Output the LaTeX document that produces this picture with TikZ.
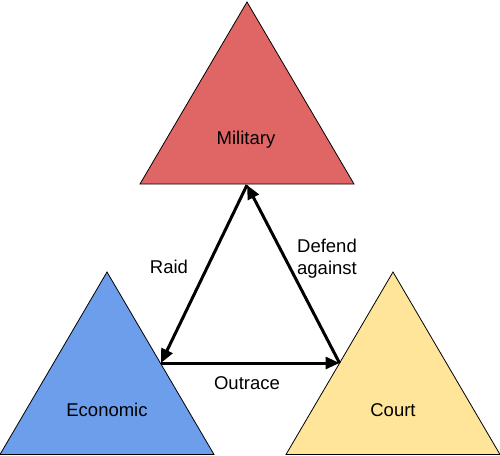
\documentclass[tikz,border=0pt]{standalone}
\usepackage{fontspec}
\setmainfont{Liberation Sans}
\usetikzlibrary{arrows.meta}
\definecolor{milred}{HTML}{E06666}
\definecolor{ecoblue}{HTML}{6D9EEB}
\definecolor{courtyel}{HTML}{FFE599}
\begin{document}
\begin{tikzpicture}[x=1pt,y=-1pt,
  tri/.style={draw=black,line width=0.8pt},
  lbl/.style={font=\fontsize{18.5}{22}\selectfont,inner sep=0pt,align=center},
  conn/.style={line width=3pt,-{Triangle[length=14pt,width=12pt]}}]
\useasboundingbox (0,0) rectangle (500,455);
% vertices
\coordinate (mA) at (247,2);
\coordinate (mL) at (140,184);
\coordinate (mR) at (354,184);
\coordinate (eA) at (107,272);
\coordinate (eL) at (0,454.5);
\coordinate (eR) at (214,454.5);
\coordinate (cA) at (393,272);
\coordinate (cL) at (286,454.5);
\coordinate (cR) at (500,454.5);
\fill[milred] (mA) -- (mL) -- (mR) -- cycle;
\draw[tri] (mA) -- (mL) -- (mR) -- cycle;
\fill[ecoblue] (eA) -- (eL) -- (eR) -- cycle;
\draw[tri] (eA) -- (eL) -- (eR) -- cycle;
\fill[courtyel] (cA) -- (cL) -- (cR) -- cycle;
\draw[tri] (cA) -- (cL) -- (cR) -- cycle;
% text
\node[lbl] (mil) at (246,140) {Military};
\node[lbl] (eco) at (107,410) {Economic};
\node[lbl] (cou) at (393,410) {Court};
% connection points
\coordinate (mB) at (247,185);
\coordinate (eM) at (161,363);
\coordinate (cM) at (339.5,363);
\draw[conn] (mB) -- (eM);
\draw[conn] (eM) -- (cM);
\draw[conn] (cM) -- (mB);
\node[lbl] (raid) at (169,267) {Raid};
\node[lbl] (def) at (327,259) {Defend\\against};
\node[lbl] (out) at (247,383) {Outrace};
\end{tikzpicture}
\end{document}
